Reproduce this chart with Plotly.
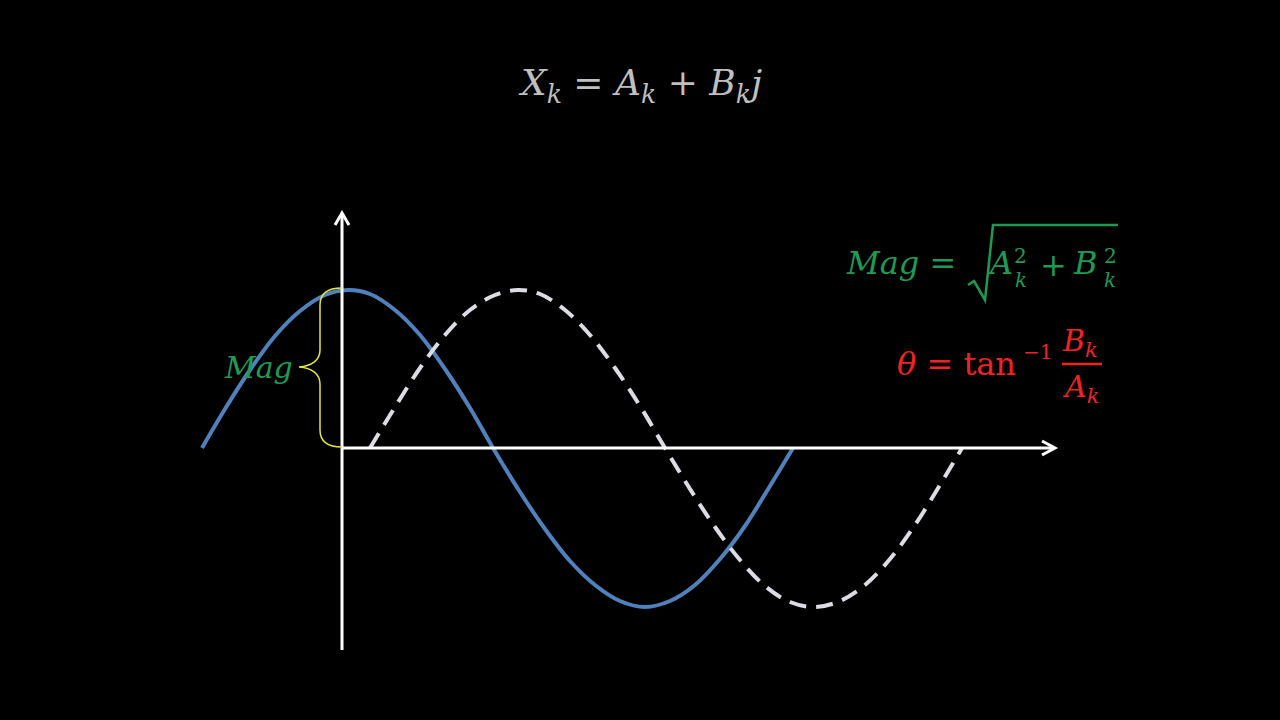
import plotly.graph_objects as go

# origin of the drawn axes, in screen pixels
X0, Y0 = 342, 448

# cosine-like wave (solid blue): x offset from origin, height above axis
blue_x = [-140, -117, -92, -67, -42, -17, 6, 28, 53, 78, 103, 128, 151,
          178, 203, 228, 253, 278, 303, 328, 353, 378, 403, 428, 451]
blue_y = [0, 39, 78, 112, 137, 153, 158, 154, 138, 113, 79, 40, 0,
          -44, -81, -113, -137, -153, -159, -153, -137, -111, -78, -38, 0]

# shifted wave (dashed white)
dash_x = [28, 53, 78, 103, 128, 153, 176, 198, 223, 248, 273, 298, 323,
          348, 373, 398, 423, 448, 473, 498, 523, 548, 573, 598, 620]
dash_y = [0, 41, 80, 113, 138, 153, 158, 154, 138, 113, 80, 42, 0,
          -41, -79, -112, -138, -154, -159, -153, -137, -111, -77, -37, 0]

MATH_FONT = "DejaVu Serif"
GREEN = "#1d9b55"
RED = "#f02222"
GREY = "#bfbfbf"


def at(px, py):
    """Screen pixel -> data coordinates."""
    return px - X0, Y0 - py


def path(points):
    return "M " + " L ".join(f"{x},{y}" for x, y in (at(*p) for p in points))


fig = go.Figure()

fig.add_trace(go.Scatter(
    x=blue_x, y=blue_y, mode="lines", line_shape="spline",
    line=dict(color="#4f81bd", width=4), hoverinfo="skip"))

fig.add_trace(go.Scatter(
    x=dash_x, y=dash_y, mode="lines", line_shape="spline",
    line=dict(color="#dcdce4", width=4, dash="17px,10px"), hoverinfo="skip"))

shapes = []
# axes with open arrow heads
shapes.append(dict(type="line", x0=0, y0=at(0, 650)[1], x1=0, y1=at(0, 214)[1],
                   line=dict(color="white", width=3)))
shapes.append(dict(type="line", x0=0, y0=0, x1=at(1054, 0)[0], y1=0,
                   line=dict(color="white", width=3)))
shapes.append(dict(type="path", path=path([(335, 225), (342, 213), (349, 225)]),
                   line=dict(color="white", width=3)))
shapes.append(dict(type="path", path=path([(1042, 441), (1055, 448), (1042, 455)]),
                   line=dict(color="white", width=3)))

# yellow curly brace marking the magnitude
b = [at(*p) for p in [(342, 288), (325, 288), (320, 295), (320, 305), (320, 350),
                      (320, 360), (312, 366), (299, 367), (312, 368), (320, 374),
                      (320, 384), (320, 430), (320, 440), (325, 447), (342, 447)]]
brace = (f"M {b[0][0]},{b[0][1]} C {b[1][0]},{b[1][1]} {b[2][0]},{b[2][1]} {b[3][0]},{b[3][1]} "
         f"L {b[4][0]},{b[4][1]} C {b[5][0]},{b[5][1]} {b[6][0]},{b[6][1]} {b[7][0]},{b[7][1]} "
         f"C {b[8][0]},{b[8][1]} {b[9][0]},{b[9][1]} {b[10][0]},{b[10][1]} "
         f"L {b[11][0]},{b[11][1]} C {b[12][0]},{b[12][1]} {b[13][0]},{b[13][1]} {b[14][0]},{b[14][1]}")
shapes.append(dict(type="path", path=brace, line=dict(color="#e6e640", width=1.5)))

# radical sign and fraction bar
shapes.append(dict(type="path", path=path([(968, 285), (974, 281), (985, 300), (993, 225), (1118, 225)]),
                   line=dict(color=GREEN, width=2.5)))
shapes.append(dict(type="line", x0=at(1062, 0)[0], x1=at(1102, 0)[0], y0=at(0, 364)[1], y1=at(0, 364)[1],
                   line=dict(color=RED, width=2.5)))

for s in shapes:
    s.setdefault("layer", "above")
    s.setdefault("xref", "x")
    s.setdefault("yref", "y")
fig.update_layout(shapes=shapes)


def label(px, py, text, size, color, xanchor="center", family=MATH_FONT):
    x, y = at(px, py)
    fig.add_annotation(x=x, y=y, text=text, showarrow=False, xanchor=xanchor, yanchor="middle",
                       font=dict(family=family, size=size, color=color))


label(640, 85, "<i>X<sub>k</sub></i> = <i>A<sub>k</sub></i> + <i>B<sub>k</sub>j</i>", 36, GREY)

label(258, 367, "<i>Mag</i>", 30, GREEN)

label(958, 263, "<i>Mag</i> =", 32, GREEN, xanchor="right")
label(1000, 263, "<i>A</i>", 32, GREEN)
label(1020, 256, "2", 20, GREEN)
label(1021, 280, "<i>k</i>", 20, GREEN)
label(1053, 265, "+", 32, GREEN)
label(1085, 263, "<i>B</i>", 32, GREEN)
label(1110, 256, "2", 20, GREEN)
label(1110, 280, "<i>k</i>", 20, GREEN)

label(1018, 364, "<i>θ</i> = tan", 32, RED, xanchor="right")
label(1037, 352, "−1", 20, RED)
label(1080, 342, "<i>B<sub>k</sub></i>", 30, RED)
label(1080, 388, "<i>A<sub>k</sub></i>", 30, RED)

fig.update_layout(
    width=1280, height=720,
    margin=dict(l=0, r=0, t=0, b=0),
    paper_bgcolor="black", plot_bgcolor="black",
    showlegend=False,
    xaxis=dict(range=[-X0, 1280 - X0], visible=False, fixedrange=True),
    yaxis=dict(range=[Y0 - 720, Y0], visible=False, fixedrange=True),
)

# drop the browser's default page margin so the figure fills the window
fig.write_html("out.html", config={"displayModeBar": False},
               post_script="document.body.style.margin='0';document.body.style.background='black';")
